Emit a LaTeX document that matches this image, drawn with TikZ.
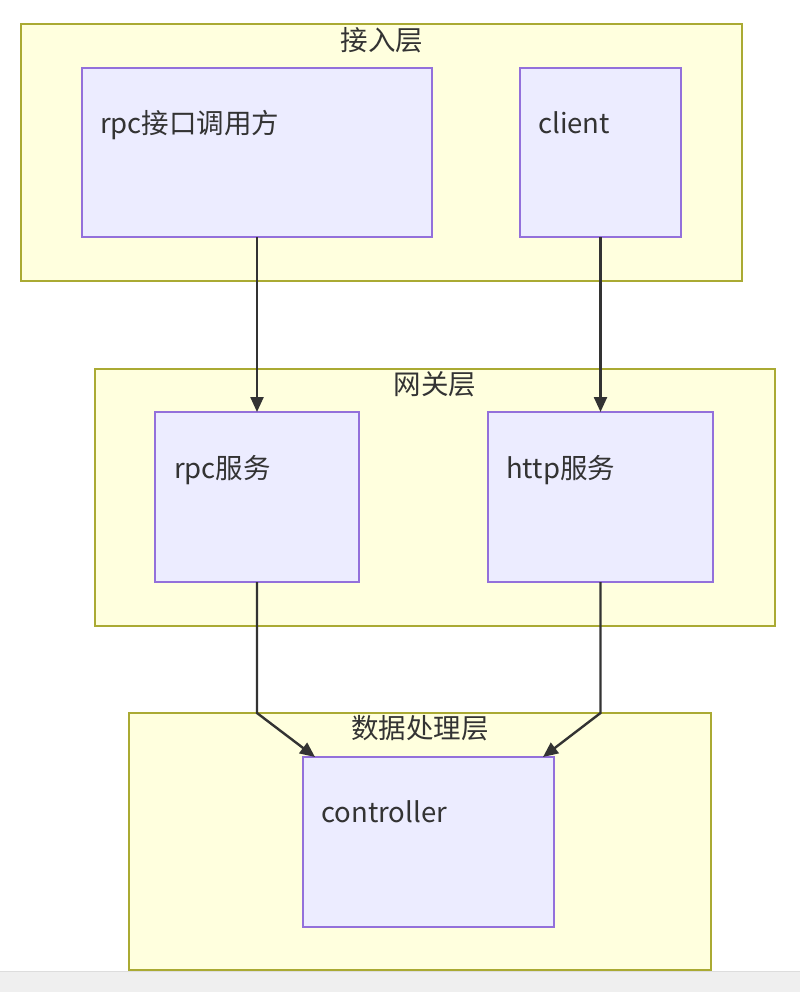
\documentclass[tikz,border=0pt]{standalone}
\usepackage{fontspec}
\usepackage{tikz}
\usetikzlibrary{arrows.meta}
\newfontfamily\cjk{Noto Sans CJK SC}
\definecolor{layerfill}{HTML}{FFFFDE}
\definecolor{layerline}{HTML}{AAAA33}
\definecolor{boxfill}{HTML}{ECECFF}
\definecolor{boxline}{HTML}{9370DB}
\definecolor{ink}{HTML}{333333}
\tikzset{x=1pt, y=-1pt,
  layer/.style={draw=layerline, fill=layerfill, line width=1.5pt, inner sep=0pt, outer sep=0pt},
  box/.style={draw=boxline, fill=boxfill, line width=1.5pt, inner sep=0pt, outer sep=0pt},
  title/.style={font=\cjk\fontsize{27.5}{32}\selectfont, text=ink, inner sep=0pt},
  lbl/.style={font=\cjk\fontsize{27.5}{32}\selectfont, text=ink, inner sep=0pt, anchor=base west},
  flow/.style={draw=ink, line width=2.4pt, -{Triangle[length=15pt,width=13pt]}}
}
\begin{document}
\begin{tikzpicture}
\useasboundingbox[fill=white] (0,0) rectangle (800,992);
\fill[fill={rgb,255:red,239;green,239;blue,239}] (0,971) rectangle (800,992);
\draw[draw={rgb,255:red,221;green,221;blue,221}, line width=1pt] (0,971) -- (800,971);

% layers
\node[layer, minimum width=721pt, minimum height=257pt] (access) at (381.5,152.5) {};
\node[layer, minimum width=680pt, minimum height=257pt] (gateway) at (435,497.5) {};
\node[layer, minimum width=582pt, minimum height=257pt] (data) at (420,841.5) {};
\node[title] (accessT) at (382,40) {接入层};
\node[title] (gatewayT) at (435,384) {网关层};
\node[title] (dataT) at (420,728) {数据处理层};

% boxes
\node[box, minimum width=350pt, minimum height=169pt] (caller) at (257,152.5) {};
\node[box, minimum width=161pt, minimum height=169pt] (client) at (600.5,152.5) {};
\node[box, minimum width=204pt, minimum height=170pt] (rpcSvc) at (257,497) {};
\node[box, minimum width=225pt, minimum height=170pt] (httpSvc) at (600.5,497) {};
\node[box, minimum width=251pt, minimum height=170pt] (ctrl) at (428.5,842) {};
\node[lbl] (callerT) at (100,134) {rpc接口调用方};
\node[lbl] (clientT) at (538,134) {client};
\node[lbl] (rpcSvcT) at (174,478) {rpc服务};
\node[lbl] (httpSvcT) at (506,478) {http服务};
\node[lbl] (ctrlT) at (321,822) {controller};

% edges
\draw[flow] (caller.south) -- (rpcSvc.north);
\draw[flow] (client.south) -- (httpSvc.north);
\draw[flow] (rpcSvc.south) -- (rpcSvc.south |- data.north) -- ([xshift=12pt]ctrl.north west);
\draw[flow] (httpSvc.south) -- (httpSvc.south |- data.north) -- ([xshift=-11pt]ctrl.north east);
\end{tikzpicture}
\end{document}
